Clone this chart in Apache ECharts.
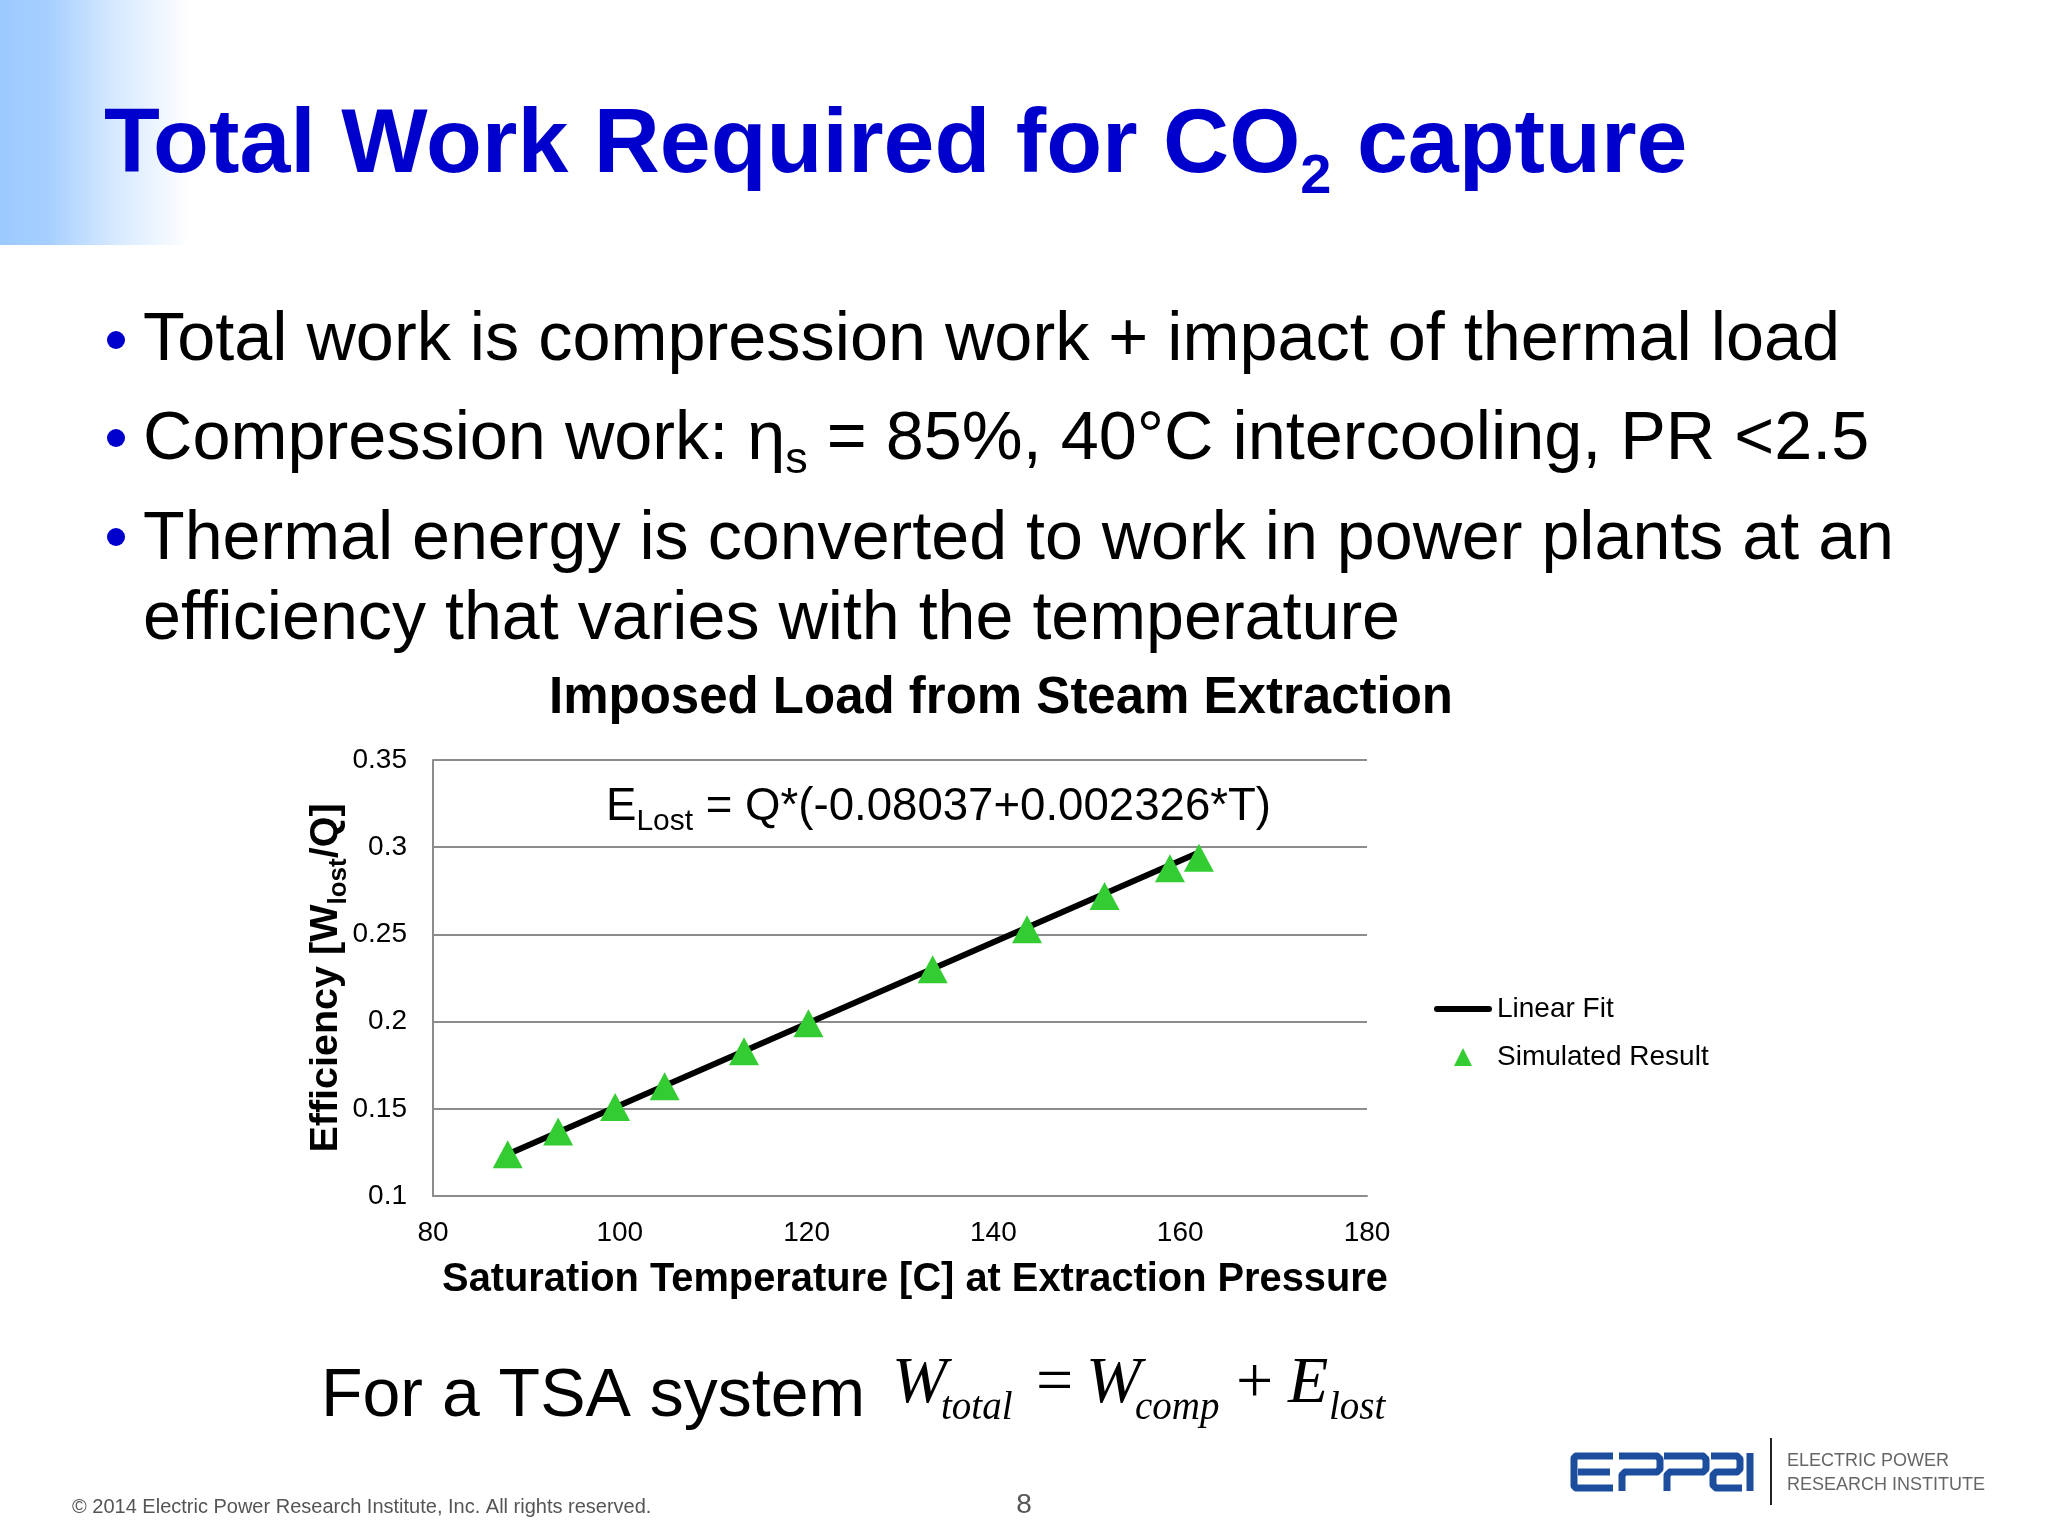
<!DOCTYPE html>
<html>
<head>
<meta charset="utf-8">
<script src="https://cdn.jsdelivr.net/npm/echarts@6/dist/echarts.min.js"></script>
<style>
html,body{margin:0;padding:0;background:#fff;}
#chart{width:2048px;height:1536px;}
</style>
</head>
<body>
<div id="chart"></div>
<script>
// ---- data ----
const xTicks = [80, 100, 120, 140, 160, 180];
const yTicks = [0.1, 0.15, 0.2, 0.25, 0.3, 0.35];
const satTemp = [88.0, 93.4, 99.5, 104.8, 113.3, 120.2, 133.5, 143.6, 151.9, 158.9, 162.0];
const efficiency = [0.124, 0.137, 0.151, 0.163, 0.183, 0.199, 0.230, 0.253, 0.272, 0.288, 0.294];
const fitTemp = [88.0, 162.0];
const fitEff = [0.124, 0.297];
const seriesNames = ['Linear Fit', 'Simulated Result'];

// ---- text helpers ----
const SANS = '"Liberation Sans", Arial, sans-serif';
const SERIF = '"Liberation Serif", "Times New Roman", serif';
const K = 0.33;
const mctx = document.createElement('canvas').getContext('2d');
function fontStr(r) { return (r.style || 'normal') + ' ' + (r.weight || 'normal') + ' ' + r.size + 'px ' + (r.family || SANS); }
function measure(r) { mctx.font = fontStr(r); return mctx.measureText(r.text).width; }
function totalWidth(list) { return list.reduce((s, r) => s + measure(r), 0); }
function runs(x0, base, list) {
  let x = x0; const out = [];
  for (const r of list) {
    const w = measure(r);
    const xx = (r.x != null) ? r.x : x;
    out.push({
      type: 'text', x: xx, y: base + (r.dy || 0) - K * r.size, silent: true,
      style: {
        text: r.text, fontSize: r.size, fontFamily: r.family || SANS,
        fontWeight: r.weight || 'normal', fontStyle: r.style || 'normal',
        fill: r.color || '#000', textAlign: 'left', textVerticalAlign: 'middle'
      }
    });
    x = xx + w;
  }
  return out;
}
function centered(cx, base, list) { return runs(cx - totalWidth(list) / 2, base, list); }

const BLUE = '#0000CC';
const graphics = [];
// header gradient block
graphics.push({
  type: 'rect', shape: { x: 0, y: 0, width: 190, height: 245 }, silent: true, z: -10,
  style: { fill: { type: 'linear', x: 0, y: 0, x2: 1, y2: 0, colorStops: [
    { offset: 0, color: '#9CCAFF' }, { offset: 0.25, color: '#A6CFFF' },
    { offset: 0.6, color: '#D6E9FF' }, { offset: 1, color: '#FFFFFF' }] } }
});
// title
graphics.push(...runs(104, 177, [
  { text: 'Total Work Required for CO', size: 91.5, weight: 'bold', color: BLUE },
  { text: '2', size: 56, weight: 'bold', color: BLUE, dy: 19 },
  { text: ' capture', size: 91.5, weight: 'bold', color: BLUE }
]));
// bullets
[340, 438, 537].forEach(cy => graphics.push({ type: 'circle', shape: { cx: 116, cy: cy, r: 9 }, style: { fill: BLUE }, silent: true }));
graphics.push(...runs(143, 364, [{ text: 'Total work is compression work + impact of thermal load', size: 68.4 }]));
graphics.push(...runs(143, 463, [
  { text: 'Compression work: \u03b7', size: 68.4 },
  { text: 's', size: 45, dy: 12 },
  { text: ' = 85%, 40\u00b0C intercooling, PR <2.5', size: 68.4 }
]));
graphics.push(...runs(143, 563, [{ text: 'Thermal energy is converted to work in power plants at an', size: 68.2 }]));
graphics.push(...runs(143, 643, [{ text: 'efficiency that varies with the temperature', size: 68.2 }]));
// chart title
graphics.push(...centered(1001, 716, [{ text: 'Imposed Load from Steam Extraction', size: 51, weight: 'bold' }]));
// fit equation
graphics.push(...runs(606, 822, [
  { text: 'E', size: 45.6 },
  { text: 'Lost', size: 30, dy: 10 },
  { text: ' = Q*(-0.08037+0.002326*T)', size: 45.6 }
]));
// x axis title
graphics.push(...centered(915, 1293, [{ text: 'Saturation Temperature [C] at Extraction Pressure', size: 39.8, weight: 'bold' }]));
// y axis title (rotated)
const yTitle = [
  { text: 'Efficiency [W', size: 39.5, weight: 'bold' },
  { text: 'lost', size: 26, weight: 'bold', dy: 8 },
  { text: '/Q]', size: 39.5, weight: 'bold' }
];
graphics.push({ type: 'group', x: 325, y: 978, rotation: Math.PI / 2, children: centered(0, 14, yTitle) });
// bottom formula
graphics.push(...runs(321, 1420, [{ text: 'For a TSA system', size: 68 }]));
graphics.push(...runs(0, 1406, [
  { text: 'W', size: 66, family: SERIF, style: 'italic', x: 892 },
  { text: 'total', size: 39, family: SERIF, style: 'italic', x: 941, dy: 16 },
  { text: '=', size: 66, family: SERIF, x: 1036 },
  { text: 'W', size: 66, family: SERIF, style: 'italic', x: 1086 },
  { text: 'comp', size: 39, family: SERIF, style: 'italic', x: 1135, dy: 16 },
  { text: '+', size: 66, family: SERIF, x: 1236 },
  { text: 'E', size: 66, family: SERIF, style: 'italic', x: 1288 },
  { text: 'lost', size: 39, family: SERIF, style: 'italic', x: 1329, dy: 16 }
]));
// footer
graphics.push(...runs(72, 1514, [{ text: '\u00a9 2014 Electric Power Research Institute, Inc. All rights reserved.', size: 20, color: '#555' }]));
graphics.push(...centered(1024, 1515, [{ text: '8', size: 28, color: '#555' }]));
// EPRI logo (stylised letters drawn as strokes)
const LOGO = '#1D4E9E';
const logoStrokes = [
  [[1613, 1456], [1576, 1456], [1574, 1458], [1574, 1486], [1576, 1488], [1613, 1488]],
  [[1578, 1472], [1610, 1472]],
  [[1619, 1456], [1657, 1456], [1660, 1459], [1660, 1469], [1657, 1472], [1625, 1472], [1622, 1475], [1622, 1491]],
  [[1664, 1456], [1703, 1456], [1706, 1459], [1706, 1469], [1703, 1472], [1670, 1472], [1667, 1475], [1667, 1491]],
  [[1711, 1456], [1737, 1456], [1740, 1459], [1740, 1469], [1737, 1472], [1716, 1472], [1713, 1475], [1713, 1485], [1716, 1488], [1742, 1488]],
  [[1750, 1453], [1750, 1491]]
];
logoStrokes.forEach(pts => graphics.push({ type: 'polyline', shape: { points: pts }, silent: true,
  style: { fill: null, stroke: LOGO, lineWidth: 7, lineJoin: 'round' } }));
graphics.push({ type: 'line', shape: { x1: 1771, y1: 1438, x2: 1771, y2: 1505 }, silent: true, style: { stroke: '#222', lineWidth: 2 } });
graphics.push(...runs(1787, 1467, [{ text: 'ELECTRIC POWER', size: 18, color: '#666' }]));
graphics.push(...runs(1787, 1491, [{ text: 'RESEARCH INSTITUTE', size: 18, color: '#666' }]));

const chart = echarts.init(document.getElementById('chart'), null, { renderer: 'canvas' });
const GRID = '#8C8C8C';
chart.setOption({
  animation: false,
  backgroundColor: '#ffffff',
  textStyle: { fontFamily: SANS },
  grid: { left: 433, top: 760, width: 934, height: 436, containLabel: false },
  xAxis: {
    type: 'value', min: xTicks[0], max: xTicks[xTicks.length - 1], interval: xTicks[1] - xTicks[0],
    axisLine: { show: true, lineStyle: { color: GRID, width: 2 } },
    axisTick: { show: false }, splitLine: { show: false },
    axisLabel: { fontSize: 28, color: '#000', margin: 23, fontFamily: SANS }
  },
  yAxis: {
    type: 'value', min: yTicks[0], max: yTicks[yTicks.length - 1], interval: 0.05,
    axisLine: { show: true, lineStyle: { color: GRID, width: 2 } },
    axisTick: { show: false },
    splitLine: { show: true, lineStyle: { color: GRID, width: 2 } },
    axisLabel: { fontSize: 28, color: '#000', margin: 26, fontFamily: SANS,
      formatter: v => String(Math.round(v * 100) / 100) }
  },
  legend: {
    orient: 'vertical', left: 1429, top: 990, itemWidth: 58, itemHeight: 18, itemGap: 20,
    symbolKeepAspect: true,
    textStyle: { fontSize: 28, color: '#000', fontFamily: SANS },
    data: [
      { name: seriesNames[0], icon: 'path://M3,0 L55,0 A3,3 0 0 1 55,6 L3,6 A3,3 0 0 1 3,0 Z' },
      { name: seriesNames[1], icon: 'path://M9,0 L18,18 L0,18 Z' }
    ],
    selectedMode: false
  },
  series: [
    {
      name: seriesNames[0], type: 'line', symbol: 'none', z: 2,
      data: fitTemp.map((t, i) => [t, fitEff[i]]),
      lineStyle: { color: '#000', width: 6, cap: 'round' }, itemStyle: { color: '#000' }
    },
    {
      name: seriesNames[1], type: 'scatter', symbol: 'triangle', symbolSize: [30, 28], z: 3,
      data: satTemp.map((t, i) => [t, efficiency[i]]),
      itemStyle: { color: '#33CC33', opacity: 1 }
    }
  ],
  graphic: graphics
});
</script>
</body>
</html>
